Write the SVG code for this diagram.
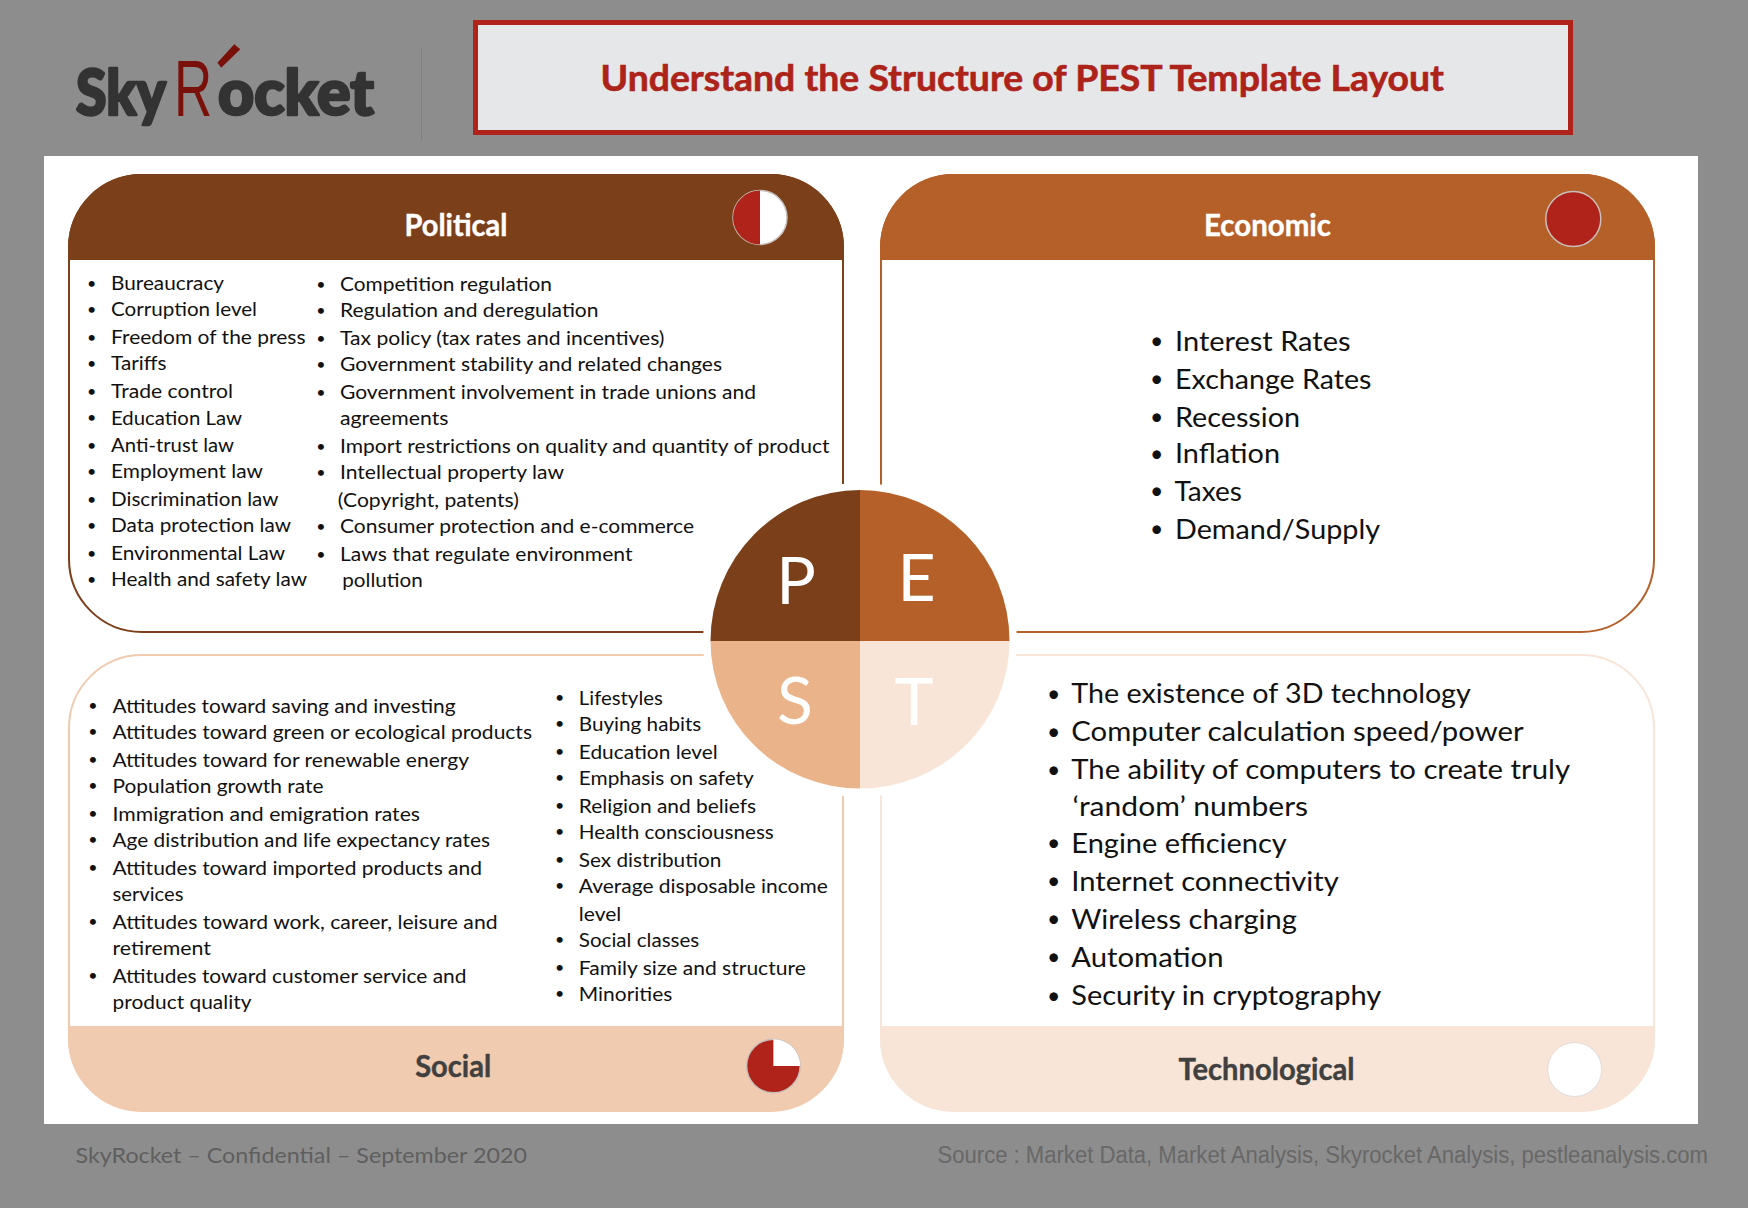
<svg xmlns="http://www.w3.org/2000/svg" width="1748" height="1208" viewBox="0 0 1748 1208">
<style>
text{font-family:"Lato","Noto Sans","Liberation Sans",sans-serif;fill:#111}
.s{font-size:19.5px}
.l{font-size:27px}
.b{text-anchor:middle}
text.b.s{font-size:16px;transform:translateY(-1.4px)}
text.b.l{font-size:23px;transform:translateY(-1.6px)}
.h{font-size:30px;font-weight:700;fill:#fff;stroke:#fff;stroke-width:.4}
.d{font-size:30px;font-weight:700;fill:#404040;stroke:#404040;stroke-width:.4}
.w{font-size:66px;fill:#fff;text-anchor:middle}
.logo{font-size:62px;font-weight:900;fill:#333;stroke:#333;stroke-width:2.6;stroke-linejoin:round}
.ball{stroke:#c9c0bc;stroke-width:1.5}
</style>
<rect width="1748" height="1208" fill="#8d8d8d"/>
<rect x="44" y="156" width="1654" height="968" fill="#fff"/>
<g id="logo">
<text class="logo" x="76" y="115" textLength="90" lengthAdjust="spacingAndGlyphs">Sky</text>
<text transform="translate(174,116) scale(.67,1)" x="0" y="0" style="font-family:'Liberation Sans',sans-serif;font-size:79px;fill:#7a100a">R</text>
<text class="logo" x="218" y="115" textLength="156" lengthAdjust="spacingAndGlyphs">ocket</text>
<polygon points="221.2,67.7 217.4,62.7 234.2,44.3 240.3,49.3" fill="#7a100a"/>
<rect x="421" y="48" width="1" height="93" fill="#7f7f7f"/>
</g>
<g id="title">
<rect x="475.500" y="22.500" width="1095" height="110" fill="#e6e7e9" stroke="#b0231a" stroke-width="5"/>
<text x="600.500" y="91" textLength="843.500" lengthAdjust="spacingAndGlyphs" style="font-size:37px;font-weight:700;fill:#ad2319;stroke:#ad2319;stroke-width:.6">Understand the Structure of PEST Template Layout</text>
</g>
<g id="political">
<rect x="69" y="175" width="774" height="457" rx="73" fill="none" stroke="#7b3f1a" stroke-width="2"/>
<path d="M68,260V247A73,73 0 0 1 141,174H771A73,73 0 0 1 844,247V260Z" fill="#7b3f1a"/>
<text class="h" x="404.500" y="236" textLength="103" lengthAdjust="spacingAndGlyphs">Political</text>
<circle class="ball" cx="760" cy="217.500" r="27" fill="#fff"/>
<path d="M760,190.500A27,27 0 0 0 760,244.500Z" fill="#b0231a"/>
<g class="s">
<text class="b s" x="91.600" y="290">•</text><text class="s" x="111" y="290" textLength="113" lengthAdjust="spacingAndGlyphs">Bureaucracy</text>
<text class="b s" x="91.600" y="316">•</text><text class="s" x="111" y="316" textLength="146" lengthAdjust="spacingAndGlyphs">Corruption level</text>
<text class="b s" x="91.600" y="344">•</text><text class="s" x="111" y="344" textLength="194.500" lengthAdjust="spacingAndGlyphs">Freedom of the press</text>
<text class="b s" x="91.600" y="370">•</text><text class="s" x="111" y="370" textLength="55.500" lengthAdjust="spacingAndGlyphs">Tariffs</text>
<text class="b s" x="91.600" y="398">•</text><text class="s" x="111" y="398" textLength="122" lengthAdjust="spacingAndGlyphs">Trade control</text>
<text class="b s" x="91.600" y="424.500">•</text><text class="s" x="111" y="424.500" textLength="131" lengthAdjust="spacingAndGlyphs">Education Law</text>
<text class="b s" x="91.600" y="452">•</text><text class="s" x="111" y="452" textLength="123" lengthAdjust="spacingAndGlyphs">Anti-trust law</text>
<text class="b s" x="91.600" y="478">•</text><text class="s" x="111" y="478" textLength="152" lengthAdjust="spacingAndGlyphs">Employment law</text>
<text class="b s" x="91.600" y="506">•</text><text class="s" x="111" y="506" textLength="167.500" lengthAdjust="spacingAndGlyphs">Discrimination law</text>
<text class="b s" x="91.600" y="532">•</text><text class="s" x="111" y="532" textLength="180" lengthAdjust="spacingAndGlyphs">Data protection law</text>
<text class="b s" x="91.600" y="560">•</text><text class="s" x="111" y="560" textLength="174" lengthAdjust="spacingAndGlyphs">Environmental Law</text>
<text class="b s" x="91.600" y="586">•</text><text class="s" x="111" y="586" textLength="196" lengthAdjust="spacingAndGlyphs">Health and safety law</text>
<text class="b s" x="321" y="291">•</text><text class="s" x="340" y="291" textLength="212" lengthAdjust="spacingAndGlyphs">Competition regulation</text>
<text class="b s" x="321" y="317">•</text><text class="s" x="340" y="317" textLength="258.500" lengthAdjust="spacingAndGlyphs">Regulation and deregulation</text>
<text class="b s" x="321" y="345">•</text><text class="s" x="340" y="345" textLength="324.500" lengthAdjust="spacingAndGlyphs">Tax policy (tax rates and incentives)</text>
<text class="b s" x="321" y="371">•</text><text class="s" x="340" y="371" textLength="382" lengthAdjust="spacingAndGlyphs">Government stability and related changes</text>
<text class="b s" x="321" y="399">•</text><text class="s" x="340" y="399" textLength="416" lengthAdjust="spacingAndGlyphs">Government involvement in trade unions and</text>
<text class="s" x="340" y="425" textLength="108.500" lengthAdjust="spacingAndGlyphs">agreements</text>
<text class="b s" x="321" y="453">•</text><text class="s" x="340" y="453" textLength="489.500" lengthAdjust="spacingAndGlyphs">Import restrictions on quality and quantity of product</text>
<text class="b s" x="321" y="479">•</text><text class="s" x="340" y="479" textLength="224" lengthAdjust="spacingAndGlyphs">Intellectual property law</text>
<text class="s" x="337.800" y="507" textLength="181" lengthAdjust="spacingAndGlyphs">(Copyright, patents)</text>
<text class="b s" x="321" y="533">•</text><text class="s" x="340" y="533" textLength="354" lengthAdjust="spacingAndGlyphs">Consumer protection and e-commerce</text>
<text class="b s" x="321" y="561">•</text><text class="s" x="340" y="561" textLength="292.500" lengthAdjust="spacingAndGlyphs">Laws that regulate environment</text>
<text class="s" x="342.300" y="587" textLength="80.500" lengthAdjust="spacingAndGlyphs">pollution</text>
</g>
</g>
<g id="economic">
<rect x="881" y="175" width="773" height="457" rx="73" fill="none" stroke="#b56029" stroke-width="2"/>
<path d="M880,260V247A73,73 0 0 1 953,174H1582A73,73 0 0 1 1655,247V260Z" fill="#b56029"/>
<text class="h" x="1204" y="236" textLength="127" lengthAdjust="spacingAndGlyphs">Economic</text>
<circle class="ball" cx="1573.300" cy="219" r="27.500" fill="#b0231a"/>
<text class="b l" x="1156.700" y="350.700">•</text><text class="l" x="1175" y="350.700" textLength="175.500" lengthAdjust="spacingAndGlyphs">Interest Rates</text>
<text class="b l" x="1156.700" y="388.700">•</text><text class="l" x="1175" y="388.700" textLength="196.500" lengthAdjust="spacingAndGlyphs">Exchange Rates</text>
<text class="b l" x="1156.700" y="426.700">•</text><text class="l" x="1175" y="426.700" textLength="125" lengthAdjust="spacingAndGlyphs">Recession</text>
<text class="b l" x="1156.700" y="463.300">•</text><text class="l" x="1175" y="463.300" textLength="105" lengthAdjust="spacingAndGlyphs">Inflation</text>
<text class="b l" x="1156.700" y="500.700">•</text><text class="l" x="1174.500" y="500.700" textLength="67.500" lengthAdjust="spacingAndGlyphs">Taxes</text>
<text class="b l" x="1156.700" y="538.700">•</text><text class="l" x="1175" y="538.700" textLength="205" lengthAdjust="spacingAndGlyphs">Demand/Supply</text>
</g>
<g id="social">
<rect x="69" y="655" width="774" height="456" rx="73" fill="none" stroke="#f1cbb0" stroke-width="2"/>
<path d="M68,1026V1038.500A73,73 0 0 0 141,1111.500H771A73,73 0 0 0 844,1038.500V1026Z" fill="#f1cbb0"/>
<text class="d" x="415.200" y="1076.500" textLength="76" lengthAdjust="spacingAndGlyphs">Social</text>
<circle class="ball" cx="773.400" cy="1066" r="26.800" fill="#b0231a"/>
<path d="M773.400,1066V1039.200A26.800,26.800 0 0 1 800.200,1066Z" fill="#fff"/>
<text class="b s" x="93" y="712.800">•</text><text class="s" x="112.500" y="712.800" textLength="343" lengthAdjust="spacingAndGlyphs">Attitudes toward saving and investing</text>
<text class="b s" x="93" y="738.800">•</text><text class="s" x="112.500" y="738.800" textLength="419.500" lengthAdjust="spacingAndGlyphs">Attitudes toward green or ecological products</text>
<text class="b s" x="93" y="766.800">•</text><text class="s" x="112.500" y="766.800" textLength="356.500" lengthAdjust="spacingAndGlyphs">Attitudes toward for renewable energy</text>
<text class="b s" x="93" y="792.800">•</text><text class="s" x="112.500" y="792.800" textLength="211" lengthAdjust="spacingAndGlyphs">Population growth rate</text>
<text class="b s" x="93" y="820.800">•</text><text class="s" x="112.500" y="820.800" textLength="307.500" lengthAdjust="spacingAndGlyphs">Immigration and emigration rates</text>
<text class="b s" x="93" y="846.800">•</text><text class="s" x="112.500" y="846.800" textLength="377.500" lengthAdjust="spacingAndGlyphs">Age distribution and life expectancy rates</text>
<text class="b s" x="93" y="874.800">•</text><text class="s" x="112.500" y="874.800" textLength="369.500" lengthAdjust="spacingAndGlyphs">Attitudes toward imported products and</text>
<text class="s" x="112.500" y="900.800" textLength="71" lengthAdjust="spacingAndGlyphs">services</text>
<text class="b s" x="93" y="928.800">•</text><text class="s" x="112.500" y="928.800" textLength="385" lengthAdjust="spacingAndGlyphs">Attitudes toward work, career, leisure and</text>
<text class="s" x="112.500" y="954.800" textLength="98.500" lengthAdjust="spacingAndGlyphs">retirement</text>
<text class="b s" x="93" y="982.800">•</text><text class="s" x="112.500" y="982.800" textLength="354" lengthAdjust="spacingAndGlyphs">Attitudes toward customer service and</text>
<text class="s" x="112.500" y="1008.800" textLength="139" lengthAdjust="spacingAndGlyphs">product quality</text>
<text class="b s" x="559.700" y="704.800">•</text><text class="s" x="578.800" y="704.800" textLength="84" lengthAdjust="spacingAndGlyphs">Lifestyles</text>
<text class="b s" x="559.700" y="730.800">•</text><text class="s" x="578.800" y="730.800" textLength="122.500" lengthAdjust="spacingAndGlyphs">Buying habits</text>
<text class="b s" x="559.700" y="758.800">•</text><text class="s" x="578.800" y="758.800" textLength="139" lengthAdjust="spacingAndGlyphs">Education level</text>
<text class="b s" x="559.700" y="784.800">•</text><text class="s" x="578.800" y="784.800" textLength="175" lengthAdjust="spacingAndGlyphs">Emphasis on safety</text>
<text class="b s" x="559.700" y="812.800">•</text><text class="s" x="578.800" y="812.800" textLength="177.300" lengthAdjust="spacingAndGlyphs">Religion and beliefs</text>
<text class="b s" x="559.700" y="838.800">•</text><text class="s" x="578.800" y="838.800" textLength="195" lengthAdjust="spacingAndGlyphs">Health consciousness</text>
<text class="b s" x="559.700" y="866.800">•</text><text class="s" x="578.800" y="866.800" textLength="142.500" lengthAdjust="spacingAndGlyphs">Sex distribution</text>
<text class="b s" x="559.700" y="892.800">•</text><text class="s" x="578.800" y="892.800" textLength="249" lengthAdjust="spacingAndGlyphs">Average disposable income</text>
<text class="s" x="578.800" y="920.800" textLength="42.500" lengthAdjust="spacingAndGlyphs">level</text>
<text class="b s" x="559.700" y="946.800">•</text><text class="s" x="578.800" y="946.800" textLength="120.500" lengthAdjust="spacingAndGlyphs">Social classes</text>
<text class="b s" x="559.700" y="974.800">•</text><text class="s" x="578.800" y="974.800" textLength="227" lengthAdjust="spacingAndGlyphs">Family size and structure</text>
<text class="b s" x="559.700" y="1000.800">•</text><text class="s" x="578.800" y="1000.800" textLength="93.500" lengthAdjust="spacingAndGlyphs">Minorities</text>
</g>
<g id="technological">
<rect x="881" y="655" width="773" height="456" rx="73" fill="none" stroke="#f8e5d8" stroke-width="2"/>
<path d="M880,1026V1038.500A73,73 0 0 0 953,1111.500H1582A73,73 0 0 0 1655,1038.500V1026Z" fill="#f8e5d8"/>
<text class="d" x="1178.500" y="1080.300" textLength="176" lengthAdjust="spacingAndGlyphs">Technological</text>
<circle cx="1574.700" cy="1069.500" r="27" fill="#fff" stroke="#e0dcd8" stroke-width="1"/>
<text class="b l" x="1053.700" y="703.300">•</text><text class="l" x="1071.300" y="703.300" textLength="399.500" lengthAdjust="spacingAndGlyphs">The existence of 3D technology</text>
<text class="b l" x="1053.700" y="741.300">•</text><text class="l" x="1071.300" y="741.300" textLength="452.300" lengthAdjust="spacingAndGlyphs">Computer calculation speed/power</text>
<text class="b l" x="1053.700" y="779.300">•</text><text class="l" x="1071.300" y="779.300" textLength="498.700" lengthAdjust="spacingAndGlyphs">The ability of computers to create truly</text>
<text class="l" x="1072.500" y="815.500" textLength="235.500" lengthAdjust="spacingAndGlyphs">‘random’ numbers</text>
<text class="b l" x="1053.700" y="853">•</text><text class="l" x="1071.300" y="853" textLength="215.400" lengthAdjust="spacingAndGlyphs">Engine efficiency</text>
<text class="b l" x="1053.700" y="891">•</text><text class="l" x="1071.300" y="891" textLength="267.400" lengthAdjust="spacingAndGlyphs">Internet connectivity</text>
<text class="b l" x="1053.700" y="929">•</text><text class="l" x="1071.300" y="929" textLength="225.700" lengthAdjust="spacingAndGlyphs">Wireless charging</text>
<text class="b l" x="1053.700" y="967">•</text><text class="l" x="1071.300" y="967" textLength="152.200" lengthAdjust="spacingAndGlyphs">Automation</text>
<text class="b l" x="1053.700" y="1005.300">•</text><text class="l" x="1071.300" y="1005.300" textLength="310" lengthAdjust="spacingAndGlyphs">Security in cryptography</text>
</g>
<g id="pest-wheel">
<circle cx="860" cy="640" r="157" fill="#fff"/>
<path d="M860,641H710.500A149.500,151 0 0 1 860,490Z" fill="#7b3f1a"/>
<path d="M860,641V490A149.500,151 0 0 1 1009.500,641Z" fill="#b56029"/>
<path d="M860,641V788.500A149.500,147.500 0 0 1 710.500,641Z" fill="#eab38a"/>
<path d="M860,641H1009.500A149.500,147.500 0 0 1 860,788.500Z" fill="#f8e5d8"/>
<text class="w" x="796" y="604">P</text>
<text class="w" x="916.500" y="601">E</text>
<text class="w" x="795" y="723.500">S</text>
<text class="w" x="914" y="725">T</text>
</g>
<g id="footer">
<text x="75.600" y="1163" textLength="451.400" lengthAdjust="spacingAndGlyphs" style="font-size:21px;fill:#5f5f5f">SkyRocket – Confidential – September 2020</text>
<text x="937.500" y="1162.700" textLength="770.500" lengthAdjust="spacingAndGlyphs" style="font-family:'Liberation Sans',sans-serif;font-size:23px;fill:#686868">Source : Market Data, Market Analysis, Skyrocket Analysis, pestleanalysis.com</text>
</g>
</svg>
